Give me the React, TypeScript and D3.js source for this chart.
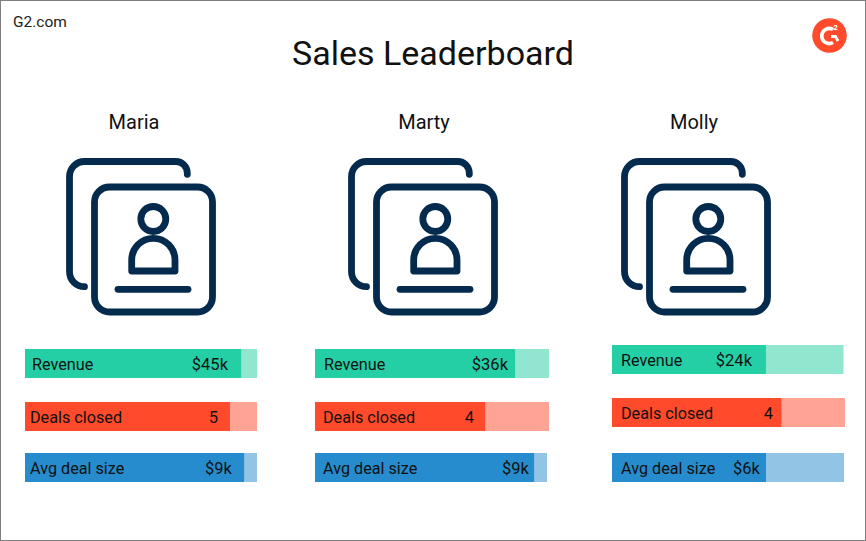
import React from "react";
import * as d3 from "d3";

const people = ["Maria", "Marty", "Molly"];
const metrics = ["Revenue", "Deals closed", "Avg deal size"];
const revenue = [45, 36, 24];
const deals = [5, 4, 4];
const avgDeal = [9, 9, 6];
const revenueTarget = [48.3, 42.1, 36.1];
const dealsTarget = [5.66, 5.5, 5.5];
const avgTarget = [9.53, 9.53, 9.04];
const formats = [(v: number) => `$${v}k`, (v: number) => `${v}`, (v: number) => `$${v}k`];

const font = "Roboto, sans-serif";
const colors = ["#25cfa5", "#ff4a2b", "#268cce"];
const tracks = ["#91e6d0", "#ffa394", "#91c4e5"];
const navy = "#042b4e";

const layout = [
  {
    nameX: 134, iconDx: 0, trackX: [[25, 257], [25, 257], [25, 257]], y: [349, 402, 453],
    labelX: [32, 30, 30], valueEnd: [228, 218, 232], textY: [370, 423, 474],
  },
  {
    nameX: 424, iconDx: 282, trackX: [[315, 549], [315, 549], [315, 547]], y: [349, 402, 453],
    labelX: [324, 323, 323], valueEnd: [508, 474, 529], textY: [370, 423, 474],
  },
  {
    nameX: 694, iconDx: 555, trackX: [[612, 843.5], [612, 845], [612, 844]], y: [345, 398, 453],
    labelX: [621, 621, 621], valueEnd: [752, 773, 760], textY: [366, 419, 474],
  },
];
const barH = 29;

function Icon({ dx }: { dx: number }) {
  return (
    <g transform={`translate(${dx},0)`} fill="none" stroke={navy} strokeWidth={6.8} strokeLinecap="round" strokeLinejoin="round">
      <path d="M187.3,174.3 V173 A11.5,11.5 0 0 0 175.8,161.5 H84.5 A15,15 0 0 0 69.5,176.5 V271.7 A15,15 0 0 0 84.5,286.7" />
      <rect x={94.5} y={187} width={118} height={125} rx={15} />
      <circle cx={153.3} cy={219} r={12.5} />
      <path d="M131.7,271 V260 A21.65,21.65 0 0 1 175,260 V271 Z" />
      <path d="M118,289.3 H188" />
    </g>
  );
}

export default function App() {
  const values = [revenue, deals, avgDeal];
  const targets = [revenueTarget, dealsTarget, avgTarget];
  return (
    <svg width={866} height={541} style={{ position: "absolute", left: 0, top: 0, fontFamily: font }}>
      <rect x={0.5} y={0.5} width={865} height={540} fill="#fff" stroke="#7f7f7f" />
      <text x={13} y={27} fontSize={15.5} fill="#222">G2.com</text>
      <text x={433} y={65} fontSize={34} textAnchor="middle" fill="#111">Sales Leaderboard</text>

      <circle cx={829.5} cy={35.5} r={17.3} fill="#ff4a2b" />
      <path d="M833,29.5 A7.5,7.5 0 1 0 833,42.5" fill="none" stroke="#fff" strokeWidth={3.6} />
      <path d="M831,36.5 H835.5 L838,41" fill="none" stroke="#fff" strokeWidth={2.8} />
      <text x={835.5} y={30} fontSize={8} fontWeight={700} fill="#fff" textAnchor="middle">2</text>

      {people.map((name, p) => {
        const l = layout[p];
        return (
          <g key={name}>
            <text x={l.nameX} y={129} fontSize={20} textAnchor="middle" fill="#111">{name}</text>
            <Icon dx={l.iconDx} />
            {metrics.map((metric, m) => {
              const x = d3.scaleLinear().domain([0, targets[m][p]]).range(l.trackX[m]);
              return (
                <g key={metric}>
                  <rect x={x(0)} y={l.y[m]} width={x(targets[m][p]) - x(0)} height={barH} fill={tracks[m]} />
                  <rect x={x(0)} y={l.y[m]} width={x(values[m][p]) - x(0)} height={barH} fill={colors[m]} />
                  <text x={l.labelX[m]} y={l.textY[m]} fontSize={16.2} fill="#111">{metric}</text>
                  <text x={l.valueEnd[m]} y={l.textY[m]} fontSize={16.5} textAnchor="end" fill="#111">
                    {formats[m](values[m][p])}
                  </text>
                </g>
              );
            })}
          </g>
        );
      })}
    </svg>
  );
}
